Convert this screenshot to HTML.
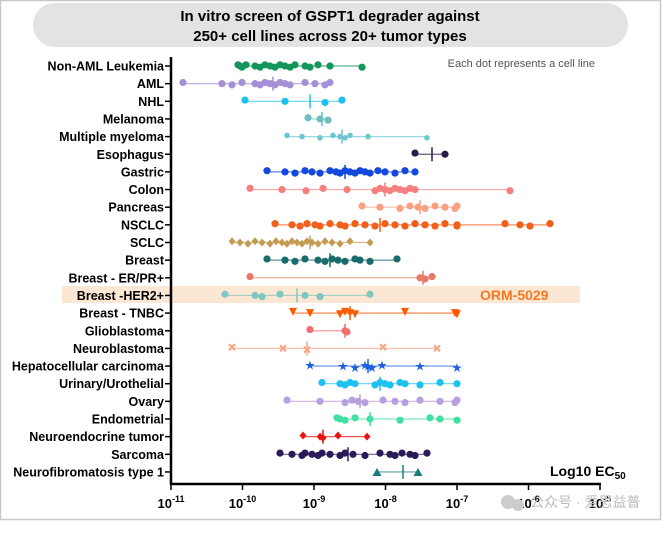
<!DOCTYPE html>
<html><head><meta charset="utf-8"><style>
body{margin:0;background:#fff;width:669px;height:528px;overflow:hidden;font-family:"Liberation Sans","Noto Sans CJK SC",sans-serif}
</style></head><body>
<svg id="s" width="669" height="528" viewBox="0 0 669 528" xmlns="http://www.w3.org/2000/svg" font-family="Liberation Sans, Noto Sans CJK SC, sans-serif">
<rect x="0.5" y="0.5" width="660" height="519" fill="#fff" stroke="#c8c8c8" stroke-width="1.5"/>
<rect x="33" y="3" width="595" height="44" rx="22" fill="#e3e3e3"/>
<text x="330" y="21" text-anchor="middle" font-size="15" font-weight="bold">In vitro screen of GSPT1 degrader against</text>
<text x="330" y="41" text-anchor="middle" font-size="15" font-weight="bold">250+ cell lines across 20+ tumor types</text>
<rect x="62" y="286" width="518" height="17" fill="#fce6d4"/>
<text x="480" y="300" font-size="14" font-weight="bold" fill="#f47920">ORM-5029</text>
<text x="595" y="67" text-anchor="end" font-size="11" fill="#555">Each dot represents a cell line</text>
<text x="550" y="476" font-size="14" font-weight="bold">Log10 EC<tspan font-size="10" dy="3">50</tspan></text>
<line x1="171" y1="57" x2="171" y2="485" stroke="#000" stroke-width="2.5"/>
<line x1="170" y1="484" x2="601" y2="484" stroke="#000" stroke-width="2.5"/>
<g id="labels" font-size="12.5" font-weight="bold" text-anchor="end"></g>
<g id="ticks" font-size="13" font-weight="bold" text-anchor="middle"></g>
<g id="data"></g>
<circle cx="508" cy="502" r="7" fill="#ccc"/><circle cx="518" cy="505" r="6" fill="#ccc"/>
<text x="530" y="507" font-size="14" fill="#bbb">公众号 · 爱思益普</text>
</svg>
<script>
const NS="http://www.w3.org/2000/svg";
function el(p,t,a,txt){const e=document.createElementNS(NS,t);for(const k in a)e.setAttribute(k,a[k]);if(txt!==undefined)e.textContent=txt;p.appendChild(e);return e;}
const names=["Non-AML Leukemia","AML","NHL","Melanoma","Multiple myeloma","Esophagus","Gastric","Colon","Pancreas","NSCLC","SCLC","Breast","Breast - ER/PR+","Breast -HER2+","Breast - TNBC","Glioblastoma","Neuroblastoma","Hepatocellular carcinoma","Urinary/Urothelial","Ovary","Endometrial","Neuroendocrine tumor","Sarcoma","Neurofibromatosis type 1"];
const L=document.getElementById("labels"),T=document.getElementById("ticks"),D=document.getElementById("data");
const y0=66,dy=17.65;
names.forEach((n,i)=>{const y=y0+i*dy;el(L,"text",{x:164,y:y+4.5},n);el(L,"line",{x1:165,y1:y,x2:171,y2:y,stroke:"#000","stroke-width":1.5});});
for(let k=0;k<7;k++){const x=171+k*71.5;el(T,"line",{x1:x,y1:484,x2:x,y2:490,stroke:"#000","stroke-width":1.5});
const t=el(T,"text",{x:x,y:508},"10");el(t,"tspan",{"font-size":"9",dy:"-6"},"-"+(11-k));}
const R=[
["#14955a","c",[238,240,242,246,255,260,265,270,275,280,285,290,295,305,310,318,330,362],null],
["#a58fd6","c",[183,222,232,242,255,260,265,270,275,280,285,290,305,315,325,330],273],
["#1ec0f0","c",[245,285,325,342],310],
["#6bbfc0","c",[308,320,328],322],
["#6cc7cf","s",[287,302,320,333,340,345,350,368,427],342],
["#2a1a4a","c",[415,445],432],
["#1348dd","c",[267,285,295,305,312,320,330,336,340,345,350,355,360,365,370,378,385,395,405,415],345],
["#f57f7f","c",[250,282,306,323,347,375,380,385,390,395,400,405,410,415,510],385],
["#f8a080","c",[362,380,400,410,418,425,435,445,455,457],420],
["#f0601a","c",[275,292,300,307,315,320,330,340,345,355,365,375,385,395,405,415,425,435,445,457,457,505,520,530,550],380],
["#c49a50","d",[232,240,248,255,262,270,276,282,287,292,297,302,307,312,318,325,332,340,350,370],310],
["#1a6b6b","c",[267,285,295,305,318,325,332,338,345,355,360,370,397],330],
["#e87868","c",[250,420,425,432],423],
["#7fc8c0","c",[225,255,262,280,305,320,370],297],
["#ff5a00","v",[293,310,340,345,350,355,405,455,457],350],
["#f07070","c",[310,345,347],345],
["#f5a888","x",[232,283,307,383,437],307],
["#2060e0","*",[310,343,355,365,368,372,382,420,457],368],
["#20c0f0","c",[322,340,345,350,355,375,380,385,390,400,405,420,440,457],380],
["#b8a0e0","c",[287,320,345,352,358,365,383,395,405,420,440,455,457],360],
["#40e0a0","c",[337,340,345,355,370,400,430,440,457],370],
["#ee1111","d",[303,320,323,338,367],323],
["#2a1a5a","c",[280,292,302,305,312,318,322,330,340,345,353,365,380,390,395,402,410,415,427],348],
["#1a7a7a","^",[377,418],403]];
R.forEach((r,i)=>{const y=y0+i*dy,[c,s,xs,m]=r;const a=Math.min(...xs),b=Math.max(...xs);
el(D,"line",{x1:a,y1:y,x2:b,y2:y,stroke:c,"stroke-width":1.2,opacity:.7});
if(m)el(D,"line",{x1:m,y1:y-7,x2:m,y2:y+7,stroke:c,"stroke-width":1.5});
xs.forEach((x,j)=>{const yy=y+((j%3)-1)*1.2;
if(s=="c")el(D,"circle",{cx:x,cy:yy,r:3.6,fill:c});
else if(s=="s")el(D,"circle",{cx:x,cy:yy,r:2.8,fill:c});
else if(s=="d")el(D,"polygon",{points:`${x},${yy-4} ${x+3.5},${yy} ${x},${yy+4} ${x-3.5},${yy}`,fill:c});
else if(s=="v")el(D,"polygon",{points:`${x-4},${yy-4} ${x+4},${yy-4} ${x},${yy+4}`,fill:c});
else if(s=="^")el(D,"polygon",{points:`${x-4.5},${y+4} ${x+4.5},${y+4} ${x},${y-4}`,fill:c});
else if(s=="x")el(D,"path",{d:`M${x-3},${yy-3}L${x+3},${yy+3}M${x+3},${yy-3}L${x-3},${yy+3}`,stroke:c,"stroke-width":2.2});
else if(s=="*")el(D,"text",{x:x,y:yy+4,"font-size":"10","text-anchor":"middle",fill:c},"★");
});});
</script>
</body></html>
